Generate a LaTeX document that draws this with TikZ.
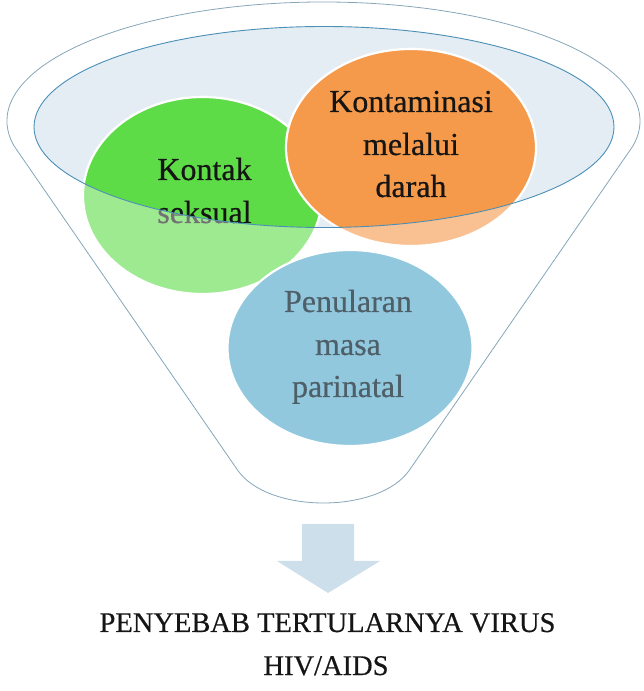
\documentclass[tikz,border=0pt]{standalone}
\usepackage{fontspec}
\setmainfont{Liberation Serif}
\newfontfamily\lblfont{Liberation Serif}[FakeBold=0.5]
\definecolor{ellfill}{HTML}{E5EDF4}
\definecolor{ellline}{HTML}{4A8FB6}
\definecolor{funline}{HTML}{86A6B9}
\definecolor{cgreen}{HTML}{5EDC48}
\definecolor{corange}{HTML}{F5994A}
\definecolor{cblue}{HTML}{92C8DE}
\definecolor{arrowfill}{HTML}{CCDFEA}
\definecolor{txtdark}{HTML}{151515}
\definecolor{txtgray}{HTML}{4E5F68}
\begin{document}
\begin{tikzpicture}[x=1pt,y=1pt,
  circ/.style={draw=white, line width=2.2pt},
  lbl/.style={anchor=base, inner sep=0pt, font=\lblfont\fontsize{32}{38}\selectfont, text=txtdark},
  lblgray/.style={lbl, text=txtgray},
  title/.style={anchor=base, inner sep=0pt, font=\lblfont\fontsize{28.5}{34}\selectfont, text=txtdark},
  lighten/.style={fill=white, opacity=0.4}
]
\useasboundingbox (0,0) rectangle (644,691);

% inner ellipse (funnel mouth) fill
\fill[ellfill] (324,564) ellipse [x radius=290, y radius=100.5];

% green circle
\filldraw[circ, fill=cgreen] (202.5,495.5) ellipse [x radius=119.5, y radius=98.5];
\node[lbl] (g1) at (204.5,511) {Kontak};
\node[lbl] (g2) at (204.5,468) {seksual};
\begin{scope}[even odd rule]
  \clip (0,0) rectangle (644,691) (324,564) ellipse [x radius=290, y radius=100.5];
  \fill[lighten] (202.5,495.5) ellipse [x radius=121, y radius=100];
\end{scope}

% orange circle
\filldraw[circ, fill=corange] (411,543.5) ellipse [x radius=125, y radius=98.5];
\node[lbl] (o1) at (411,579) {Kontaminasi};
\node[lbl] (o2) at (411,536) {melalui};
\node[lbl] (o3) at (411,494) {darah};
\begin{scope}[even odd rule]
  \clip (0,0) rectangle (644,691) (324,564) ellipse [x radius=290, y radius=100.5];
  \fill[lighten] (411,543.5) ellipse [x radius=126.5, y radius=100];
\end{scope}

% blue circle
\filldraw[circ, fill=cblue] (350,343) ellipse [x radius=122.5, y radius=98];
\node[lblgray] (b1) at (348,379) {Penularan};
\node[lblgray] (b2) at (348,336) {masa};
\node[lblgray] (b3) at (348,294) {parinatal};

% inner ellipse outline
\draw[ellline, line width=0.9pt] (324,564) ellipse [x radius=290, y radius=100.5];

% funnel outline
\draw[funline, line width=0.8pt] (13.92,545.26)
  arc[start angle=192, end angle=-12, x radius=316.5, y radius=119]
  -- (409.5,221) .. controls (379.1,177) and (267.9,177) .. (237.5,221) -- cycle;

% down arrow
\fill[arrowfill] (302,167) -- (354,167) -- (354,130) -- (380,130) -- (328,98)
  -- (277,130) -- (302,130) -- cycle;

% caption
\node[title] (t1) at (327.5,59) {PENYEBAB TERTULARNYA VIRUS};
\node[title] (t2) at (326,16) {HIV/AIDS};
\end{tikzpicture}
\end{document}
